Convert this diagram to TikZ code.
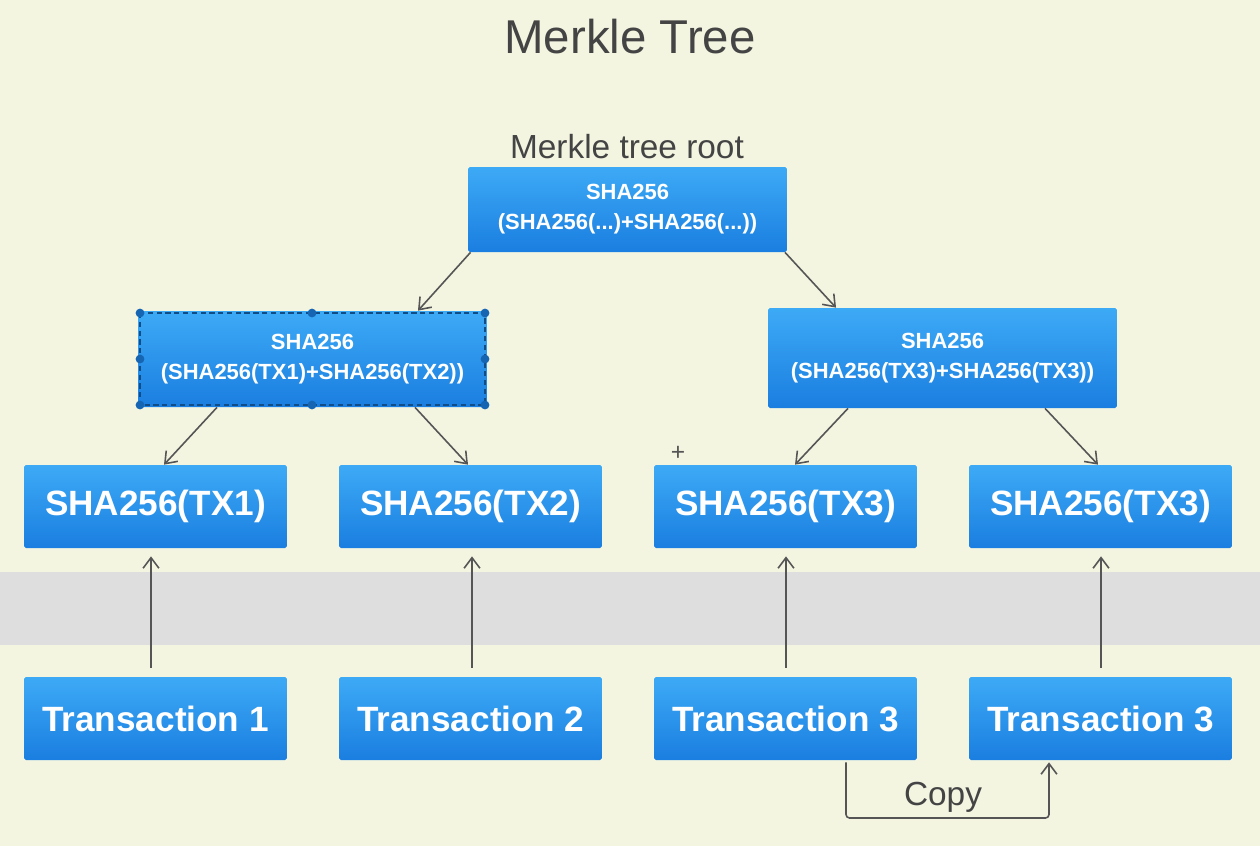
\documentclass[tikz,border=0pt]{standalone}
\usepackage{fontspec}
\setmainfont{Liberation Sans}
\usetikzlibrary{arrows.meta}
\definecolor{bg}{HTML}{F3F5E1}
\definecolor{band}{HTML}{DEDEDE}
\definecolor{btop}{HTML}{3DAAF6}
\definecolor{bbot}{HTML}{1A7EE0}
\definecolor{ln}{HTML}{555555}
\begin{document}
\begin{tikzpicture}[x=0.02cm,y=-0.02cm,
  box/.style={rectangle,top color=btop,bottom color=bbot,draw=none,rounded corners=1pt,text=white,font=\bfseries\fontsize{20}{22}\selectfont,align=center,inner sep=0pt},
  leaf/.style={box,minimum width=5.26cm,minimum height=1.66cm},
  small/.style={font=\bfseries\fontsize{12.5}{17}\selectfont},
  arr/.style={draw=ln,line width=0.9pt,-{Straight Barb[length=6pt,width=9pt]}},
  handle/.style={circle,fill=bbot!80!black,inner sep=0pt,minimum size=5pt}]
\useasboundingbox (0,0) rectangle (1260,846);
\fill[bg] (0,0) rectangle (1260,846);
\fill[band] (0,572) rectangle (1260,645);
\node at (630,37) {\fontsize{27}{30}\selectfont\color{ln!80!black}Merkle Tree};
\node at (627,147) {\fontsize{19}{22}\selectfont\color{ln!80!black}Merkle tree root};
% root
\node[box,small,minimum width=6.38cm,minimum height=1.70cm] (root) at (627.5,209.5) {SHA256\\(SHA256(...)+SHA256(...))};
\node[box,small,minimum width=6.98cm,minimum height=1.92cm] (ml) at (312.5,359) {SHA256\\(SHA256(TX1)+SHA256(TX2))};
\draw[densely dashed,draw=bbot!60!black,line width=0.8pt] (140,313) rectangle (485,405);
\foreach \p in {(140,313),(312,313),(485,313),(140,359),(485,359),(140,405),(312,405),(485,405)} \node[handle] at \p {};
\node[box,small,minimum width=6.98cm,minimum height=2.0cm] (mr) at (942.5,358) {SHA256\\(SHA256(TX3)+SHA256(TX3))};
% level hashes
\node[leaf] (h1) at (155.5,506.5) {SHA256(TX1)};
\node[leaf] (h2) at (470.5,506.5) {SHA256(TX2)};
\node[leaf] (h3) at (785.5,506.5) {SHA256(TX3)};
\node[leaf] (h4) at (1100.5,506.5) {SHA256(TX3)};
\node[leaf] (t1) at (155.5,718.5) {Transaction 1};
\node[leaf] (t2) at (470.5,718.5) {Transaction 2};
\node[leaf] (t3) at (785.5,718.5) {Transaction 3};
\node[leaf] (t4) at (1100.5,718.5) {Transaction 3};
% arrows
\draw[arr] ([xshift=-3.14cm]root.south) -- ([xshift=2.11cm]ml.north);
\draw[arr] ([xshift=3.15cm]root.south) -- ([xshift=-2.13cm]mr.north);
\draw[arr] ([xshift=-1.91cm]ml.south) -- ([xshift=0.17cm]h1.north);
\draw[arr] ([xshift=2.05cm]ml.south) -- ([xshift=-0.05cm]h2.north);
\draw[arr] ([xshift=-1.89cm]mr.south) -- ([xshift=0.19cm]h3.north);
\draw[arr] ([xshift=2.05cm]mr.south) -- ([xshift=-0.05cm]h4.north);
\draw[arr] ([xshift=-0.09cm,yshift=0.18cm]t1.north) -- ([xshift=-0.09cm,yshift=-0.16cm]h1.south);
\draw[arr] ([xshift=0.03cm,yshift=0.18cm]t2.north) -- ([xshift=0.03cm,yshift=-0.16cm]h2.south);
\draw[arr] ([xshift=0.01cm,yshift=0.18cm]t3.north) -- ([xshift=0.01cm,yshift=-0.16cm]h3.south);
\draw[arr] ([xshift=0.01cm,yshift=0.18cm]t4.north) -- ([xshift=0.01cm,yshift=-0.16cm]h4.south);
\coordinate (c1) at (846,818); \coordinate (c2) at (1049,818);
\draw[arr,rounded corners=2pt] ([xshift=1.21cm,yshift=-0.04cm]t3.south) -- (c1) -- (c2) -- ([xshift=-1.03cm,yshift=-0.04cm]t4.south);
\node at (943,797) {\fontsize{19}{22}\selectfont\color{ln!80!black}Copy};
\node at (678,453) {\fontsize{14}{14}\selectfont\color{ln}+};
\end{tikzpicture}
\end{document}
